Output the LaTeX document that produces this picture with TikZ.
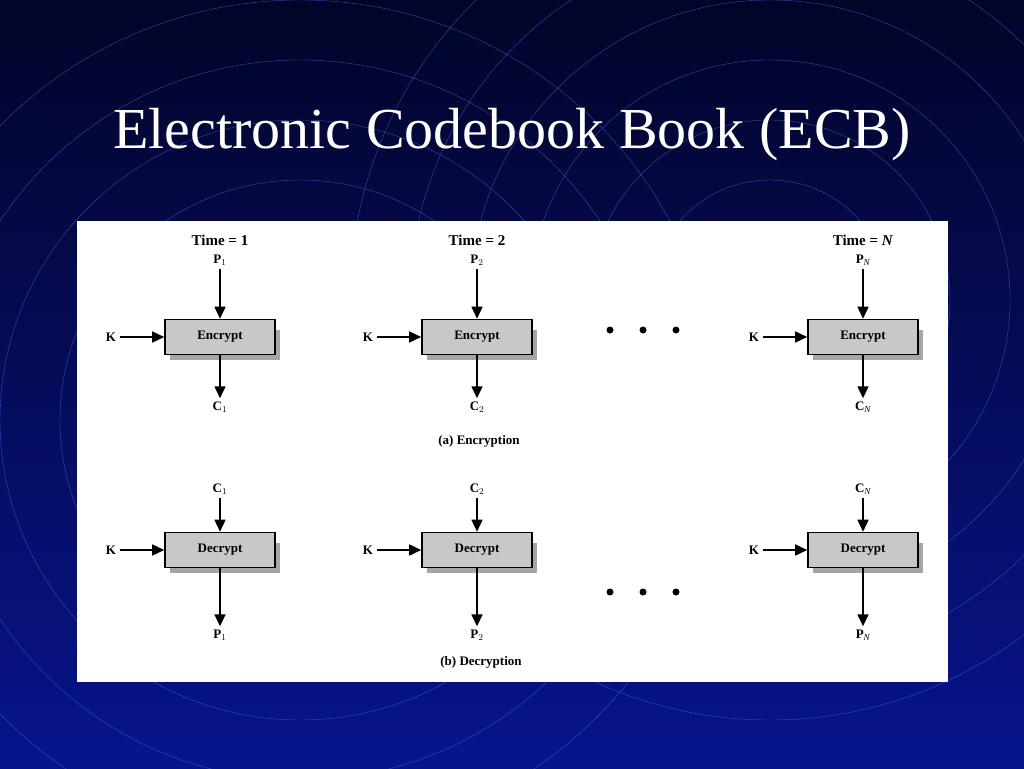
\documentclass[tikz,border=0pt]{standalone}
\usepackage{fontspec}
\setmainfont{Liberation Serif}
\usepackage{tikz}
\usetikzlibrary{arrows.meta}
\definecolor{navytop}{RGB}{2,4,40}
\definecolor{navybot}{RGB}{8,20,140}
\definecolor{ringblue}{RGB}{70,100,220}
\definecolor{boxgray}{RGB}{200,200,200}
\tikzset{
  cipher/.style={draw, line width=1.6pt, fill=boxgray, minimum width=110pt, minimum height=35pt, font=\bfseries\fontsize{13}{13}\selectfont},
  lbl/.style={font=\bfseries\fontsize{13}{13}\selectfont},
  flow/.style={-{Triangle[length=12pt,width=11pt]}, line width=1.6pt},
}
\begin{document}
\begin{tikzpicture}[x=1pt,y=-1pt]
    % Background
    \shade[top color=navytop, bottom color=navybot] (0,0) rectangle (1024,768);
    \useasboundingbox (0,0) rectangle (1024,768);
    \foreach \r in {60,120,...,420} {
        \draw[ringblue, thin, opacity=0.7] (300,420) circle (\r);
        \draw[ringblue, thin, opacity=0.7] (770,300) circle (\r);
    }
    % Title
    \node[white, font=\fontsize{58}{58}\selectfont] (title) at (512,135) {Electronic Codebook Book (ECB)};
    % Panel
    \fill[white] (77,221) rectangle (948,682);
    % Columns
    \foreach \cx/\t/\s [count=\i] in {220/1/1, 477/2/2, 863/{\textit{N}}/{\mathit{N}}} {
        \node[lbl, font=\bfseries\fontsize{15}{15}\selectfont] (time\i) at (\cx,240) {Time = \t};
        % Encryption
        \node[lbl] (pe\i) at (\cx,260) {P$_{\s}$};
        \fill[gray!70] (\cx-50,330) rectangle (\cx+60,360);
        \node[cipher] (enc\i) at (\cx,337) {Encrypt};
        \node[lbl] (ce\i) at (\cx,407) {C$_{\s}$};
        \node[lbl] (ke\i) at (\cx-109,337) {K};
        \draw[flow] (pe\i) -- (enc\i);
        \draw[flow] (enc\i) -- (ce\i);
        \draw[flow] (ke\i) -- (enc\i);
        % Decryption
        \node[lbl] (cd\i) at (\cx,489) {C$_{\s}$};
        \fill[gray!70] (\cx-50,543) rectangle (\cx+60,573);
        \node[cipher] (dec\i) at (\cx,550) {Decrypt};
        \node[lbl] (pd\i) at (\cx,635) {P$_{\s}$};
        \node[lbl] (kd\i) at (\cx-109,550) {K};
        \draw[flow] (cd\i) -- (dec\i);
        \draw[flow] (dec\i) -- (pd\i);
        \draw[flow] (kd\i) -- (dec\i);
    }
    % Dots
    \foreach \dx in {610,643,676} {
        \fill (\dx,330) circle (3.5);
        \fill (\dx,592) circle (3.5);
    }
    \node[lbl] (capa) at (479,441) {(a) Encryption};
    \node[lbl] (capb) at (481,662) {(b) Decryption};
\end{tikzpicture}
\end{document}
